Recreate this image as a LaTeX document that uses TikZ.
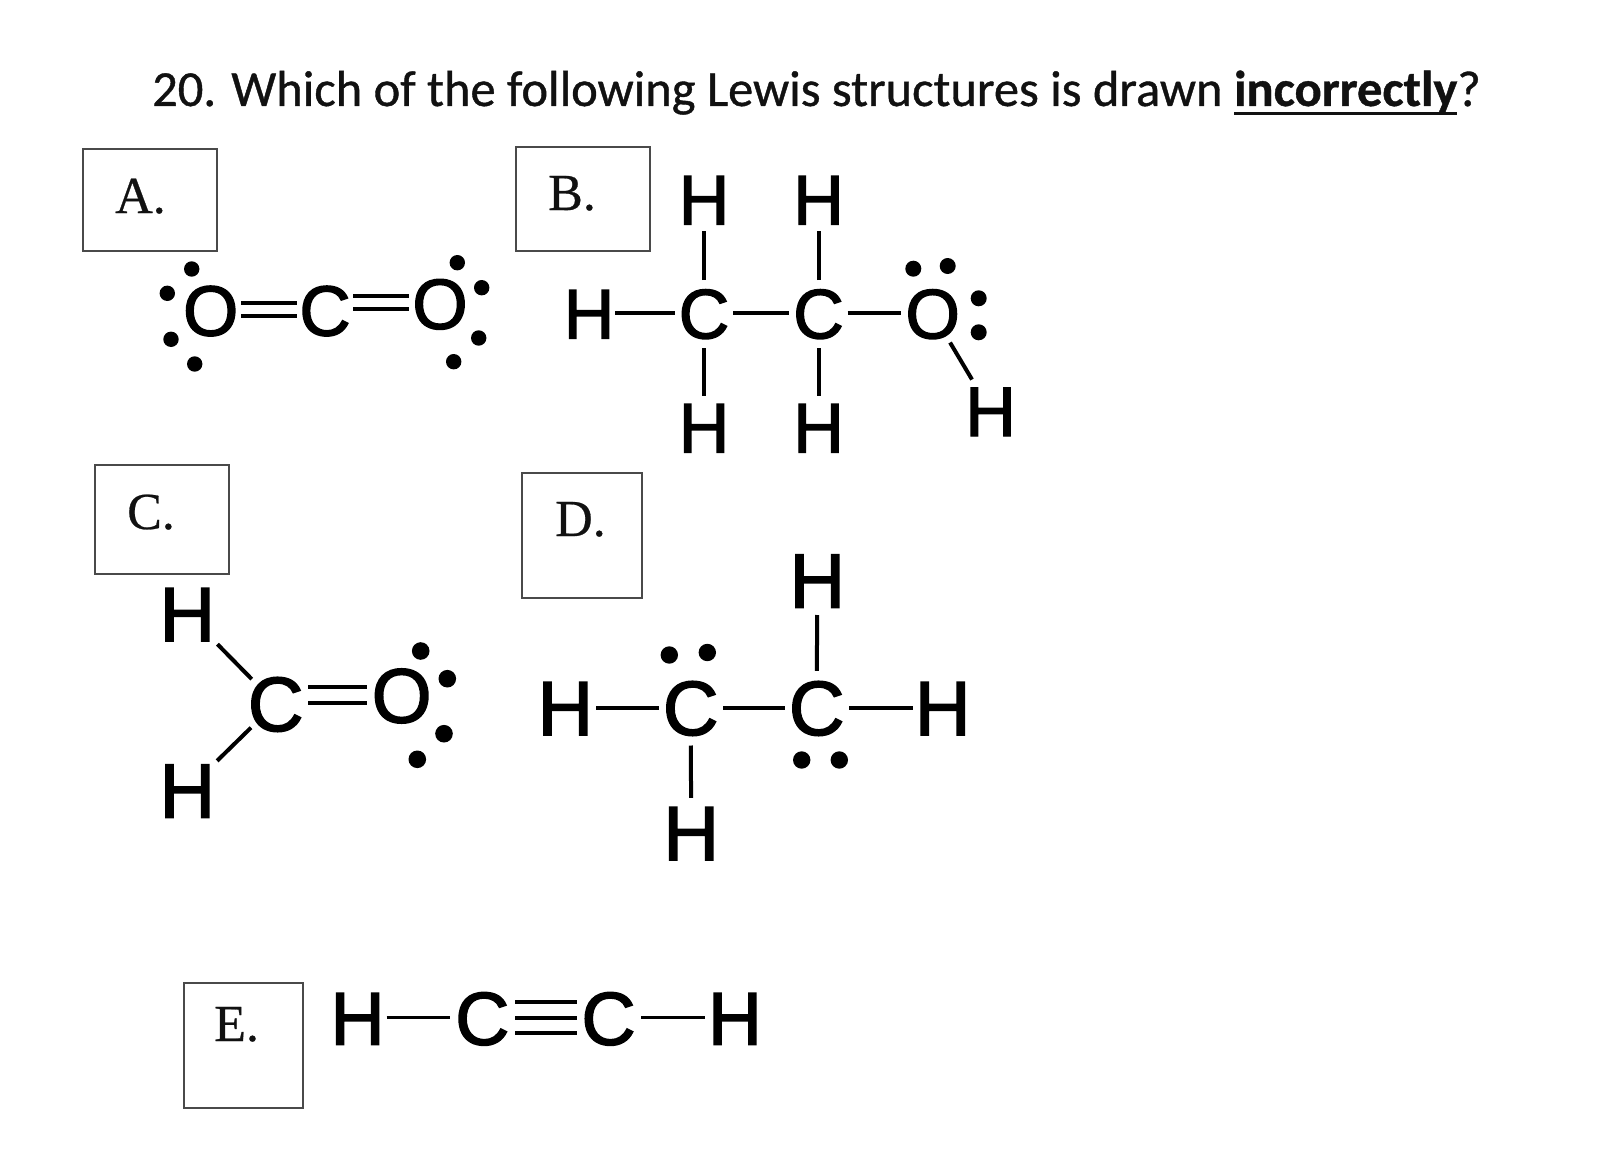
\documentclass[tikz,border=0pt]{standalone}
\usepackage{fontspec}
\setmainfont{Carlito}[FakeBold=0.8]
\newfontfamily\atomf{Liberation Sans}[FakeBold=2]
\newfontfamily\labf{Liberation Serif}[FakeBold=0.5]
\usetikzlibrary{calc}
\definecolor{ink}{HTML}{111111}
\definecolor{boxline}{HTML}{4A4A4A}
\newcommand\ulbold[1]{\setbox0=\hbox{#1}\rlap{\rule[-9pt]{\wd0}{3pt}}\box0}
\tikzset{
  atom/.style={inner sep=0pt,outer sep=0pt,text=black,text depth=0pt},
  atomA/.style={atom,font=\atomf\fontsize{71}{71}\selectfont,text height=51pt},
  atomB/.style={atom,font=\atomf\fontsize{70}{70}\selectfont,text height=50pt},
  atomC/.style={atom,font=\atomf\fontsize{77}{77}\selectfont,text height=55pt},
  atomE/.style={atom,font=\atomf\fontsize{75}{75}\selectfont,text height=54pt},
  bond/.style={draw=black,line width=4pt},
  thinbond/.style={draw=black,line width=3pt},
  lp/.style={fill=black},
  labelbox/.style={draw=boxline,line width=2pt,fill=white,inner sep=0pt},
  optlabel/.style={anchor=base west,inner sep=0pt,text=ink,font=\labf\fontsize{52}{52}\selectfont},
}
\begin{document}
\begin{tikzpicture}[x=1pt,y=-1pt]
\useasboundingbox (0,0) rectangle (1610,1164);
\fill[white] (0,0) rectangle (1610,1164);
% title
\node[anchor=base west,inner sep=0pt,text=ink,font=\fontsize{50.5}{50.5}\selectfont] (title) at (152,106)
  {20. Which of the following Lewis structures is drawn \ulbold{\textbf{incorrectly}}?};
% option boxes
\node[labelbox,minimum width=134pt,minimum height=102pt] (boxA) at (150,200) {};
\node[labelbox,minimum width=134pt,minimum height=104pt] (boxB) at (582.5,198.5) {};
\node[labelbox,minimum width=134pt,minimum height=109pt] (boxC) at (162,519.5) {};
\node[labelbox,minimum width=120pt,minimum height=125pt] (boxD) at (582,535.5) {};
\node[labelbox,minimum width=119pt,minimum height=125pt] (boxE) at (243,1045) {};
\node[optlabel] (labA) at (115,213) {A.};
\node[optlabel] (labB) at (548,210) {B.};
\node[optlabel] (labC) at (127,529) {C.};
\node[optlabel] (labD) at (555,536) {D.};
\node[optlabel] (labE) at (214,1041) {E.};
% A
\node[atomA] (aO1) at (210.7,310) {O};
\node[atomA] (aC) at (325,310) {C};
\node[atomA] (aO2) at (440,303.3) {O};
\draw[bond,shorten <=30.3pt,shorten >=27.7pt] ([yshift=7.3pt]aO1.center) -- ([yshift=7.3pt]aC.center);
\draw[bond,shorten <=30.3pt,shorten >=27.7pt] ([yshift=-5.7pt]aO1.center) -- ([yshift=-5.7pt]aC.center);
\draw[bond,shorten <=28.3pt,shorten >=31pt] ([yshift=7.6pt]aO2.center -| aC.center) -- ([yshift=7.6pt]aO2.center);
\draw[bond,shorten <=28.3pt,shorten >=31pt] ([yshift=-6pt]aO2.center -| aC.center) -- ([yshift=-6pt]aO2.center);
\foreach \p in {(191.7,269),(167.3,293.3),(171,339.3),(194.7,364),(457.3,262.7),(481.7,287.7),(478.7,338),(453.7,361.7)}
  \fill[lp] \p circle (7.7pt);
% B
\node[atomB] (bHt1) at (704,199.3) {H};
\node[atomB] (bHt2) at (818.5,199.3) {H};
\node[atomB] (bHl) at (589,313.3) {H};
\node[atomB] (bC1) at (704,313.3) {C};
\node[atomB] (bC2) at (818.5,313.3) {C};
\node[atomB] (bO) at (932.7,313.3) {O};
\node[atomB] (bHb1) at (704,427.3) {H};
\node[atomB] (bHb2) at (818.5,427.3) {H};
\node[atomB] (bHr) at (990.7,411) {H};
\draw[bond,shorten <=26.3pt,shorten >=29.3pt] (bHl.center) -- (bC1.center);
\draw[bond,shorten <=29.3pt,shorten >=29.8pt] (bC1.center) -- (bC2.center);
\draw[bond,shorten <=29.2pt,shorten >=32pt] (bC2.center) -- (bO.center);
\draw[bond,shorten <=33.3pt,shorten >=31.4pt] (bC1.center) -- (bHt1.center);
\draw[bond,shorten <=33.3pt,shorten >=31.4pt] (bC2.center) -- (bHt2.center);
\draw[bond,shorten <=35pt,shorten >=31.3pt] (bC1.center) -- (bHb1.center);
\draw[bond,shorten <=35pt,shorten >=31.3pt] (bC2.center) -- (bHb2.center);
\draw[bond,shorten <=34pt,shorten >=36.6pt] (bO.center) -- (bHr.center);
\foreach \p in {(913.3,268.7),(947.7,266),(978.7,298.3),(978.7,332.3)}
  \fill[lp] \p circle (8pt);
% C
\node[atomC] (cH1) at (187.3,613.5) {H};
\node[atomC] (cH2) at (187.3,790) {H};
\node[atomC] (cC) at (275.7,703.5) {C};
\node[atomC] (cO) at (401.7,695) {O};
\draw[bond,shorten <=34.2pt,shorten >=43pt] (cC.center) -- (cH1.center);
\draw[bond,shorten <=34.6pt,shorten >=41.7pt] (cC.center) -- (cH2.center);
\draw[bond,shorten <=32.6pt,shorten >=35pt] ([yshift=7.7pt]cO.center -| cC.center) -- ([yshift=7.7pt]cO.center);
\draw[bond,shorten <=32.6pt,shorten >=35pt] ([yshift=-7.7pt]cO.center -| cC.center) -- ([yshift=-7.7pt]cO.center);
\foreach \p in {(420.7,651),(447.3,678.7),(444,733.7),(417.3,759.3)}
  \fill[lp] \p circle (8.8pt);
% D
\node[atomC] (dHt) at (817.3,580) {H};
\node[atomC] (dHl) at (565.3,707.5) {H};
\node[atomC] (dC1) at (690.7,707.5) {C};
\node[atomC] (dC2) at (816.7,707.5) {C};
\node[atomC] (dHr) at (942.7,707.5) {H};
\node[atomC] (dHb) at (691.2,832.5) {H};
\draw[bond,shorten <=30.7pt,shorten >=32pt] (dHl.center) -- (dC1.center);
\draw[bond,shorten <=32.6pt,shorten >=31.4pt] (dC1.center) -- (dC2.center);
\draw[bond,shorten <=32.6pt,shorten >=30pt] (dC2.center) -- (dHr.center);
\draw[bond,shorten <=36.7pt,shorten >=35pt] (dC2.center) -- (dHt.center);
\draw[bond,shorten <=38pt,shorten >=34.7pt] (dC1.center) -- (dHb.center);
\foreach \p in {(669.3,655),(707.3,652.5),(801.7,760),(839.3,760)}
  \fill[lp] \p circle (8.7pt);
% E
\node[atomE] (eH1) at (357.6,1017.7) {H};
\node[atomE] (eC1) at (482.3,1017.7) {C};
\node[atomE] (eC2) at (608.5,1017.7) {C};
\node[atomE] (eH2) at (735,1017.7) {H};
\draw[thinbond,shorten <=29pt,shorten >=32.6pt] (eH1.center) -- (eC1.center);
\draw[thinbond,shorten <=32.6pt,shorten >=29.8pt] (eC2.center) -- (eH2.center);
\draw[bond,shorten <=33pt,shorten >=31.8pt] ([yshift=15.5pt]eC1.center) -- ([yshift=15.5pt]eC2.center);
\draw[bond,shorten <=33pt,shorten >=31.8pt] (eC1.center) -- (eC2.center);
\draw[bond,shorten <=33pt,shorten >=31.8pt] ([yshift=-15.5pt]eC1.center) -- ([yshift=-15.5pt]eC2.center);
\end{tikzpicture}
\end{document}
